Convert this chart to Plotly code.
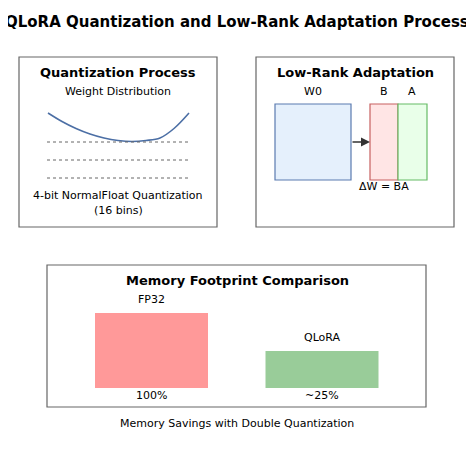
import plotly.graph_objects as go

# data
curve_x = [48, 62, 76, 90, 104, 118, 132, 146, 160, 174, 189]
curve_y = [113, 121.5, 128.5, 134, 138, 140.5, 141.5, 140.5, 138, 128.5, 113]
mem_labels = ["FP32", "QLoRA"]
mem_pct_text = ["100%", "~25%"]
mem_heights = [75, 37]
mem_x = [151.5, 322]
mem_colors = ["#ff9999", "#99cc99"]

F = "DejaVu Sans"
fig = go.Figure()
fig.add_trace(go.Scatter(x=curve_x, y=curve_y, mode="lines", line=dict(color="#4c6fa5", width=1.6, shape="spline"), hoverinfo="skip"))
fig.add_trace(go.Bar(x=mem_x, y=[-h for h in mem_heights], base=388, width=113, marker=dict(color=mem_colors, line=dict(width=0)), hoverinfo="skip"))

shapes = []
def rect(x0, y0, x1, y1, line="#666", fill="white", w=1.2):
    shapes.append(dict(type="rect", x0=x0, y0=y0, x1=x1, y1=y1, line=dict(color=line, width=w), fillcolor=fill, layer="below"))
rect(19, 57, 217, 227)
rect(256, 57, 454, 227)
rect(47, 265, 426, 407)
rect(275, 104, 351, 180, "#5a7bb0", "#e5f0fc")
rect(370, 104, 398, 180, "#c76060", "#ffe5e5")
rect(398, 104, 427, 180, "#66bb66", "#e9ffe9")
for yy in [142, 160, 178]:
    shapes.append(dict(type="line", x0=47, x1=189, y0=yy, y1=yy, line=dict(color="#666", width=1, dash="3px,3px")))
fig.update_layout(shapes=shapes)

def txt(x, y, s, size=11, bold=False):
    fig.add_annotation(x=x, y=y, text=f"<b>{s}</b>" if bold else s, showarrow=False, font=dict(family=F, size=size, color="black"))
txt(237, 22, "QLoRA Quantization and Low-Rank Adaptation Process", 15, True)
txt(118, 72, "Quantization Process", 13, True)
txt(118, 91, "Weight Distribution", 11)
txt(118, 195, "4-bit NormalFloat Quantization", 11)
txt(118, 210, "(16 bins)", 11)
txt(355, 72, "Low-Rank Adaptation", 13, True)
txt(313, 91, "W0", 11)
txt(384, 91, "B", 11)
txt(412, 91, "A", 11)
txt(384, 186, "ΔW = BA", 11)
txt(237, 280, "Memory Footprint Comparison", 13, True)
for x, l, p, h in zip(mem_x, mem_labels, mem_pct_text, mem_heights):
    txt(x, 388 - h - 14, l, 11)
    txt(x, 395, p, 11)
txt(237, 423, "Memory Savings with Double Quantization", 11)
fig.add_annotation(x=370, y=142, ax=351, ay=142, xref="x", yref="y", axref="x", ayref="y",
                   showarrow=True, arrowhead=2, arrowsize=1.2, arrowwidth=1.5, arrowcolor="#333", text="")

fig.update_layout(width=474, height=474, margin=dict(l=0, r=0, t=0, b=0), showlegend=False,
                  plot_bgcolor="white", paper_bgcolor="white",
                  xaxis=dict(range=[8, 482], visible=False, fixedrange=True),
                  yaxis=dict(range=[482, 8], visible=False, fixedrange=True))
fig.write_html("out.html")
